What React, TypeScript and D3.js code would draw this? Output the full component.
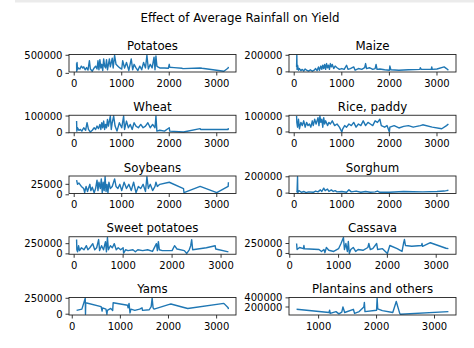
import React from 'react';
import * as d3 from 'd3';

type P = [number, number];

const potatoes: P[] = [[50,280000],[52,60000],[60,300000],[70,100000],[90,150000],[120,120000],[150,200000],[180,150000],[200,180000],[230,100000],[260,160000],[290,90000],[320,350000],[340,120000],[380,60000],[420,150000],[450,200000],[480,120000],[500,350000],[520,100000],[540,380000],[560,150000],[580,250000],[600,80000],[620,400000],[640,200000],[660,150000],[680,380000],[700,100000],[720,250000],[740,400000],[760,180000],[780,300000],[800,420000],[820,150000],[850,500000],[880,250000],[920,200000],[960,150000],[1000,120000],[1020,350000],[1060,150000],[1100,300000],[1150,80000],[1200,400000],[1230,100000],[1260,250000],[1300,150000],[1340,80000],[1380,200000],[1420,100000],[1460,300000],[1500,150000],[1530,500000],[1560,120000],[1600,250000],[1640,150000],[1680,450000],[1700,100000],[1720,480000],[1740,200000],[1760,180000],[1800,150000],[1900,150000],[1980,140000],[2000,250000],[2010,170000],[2100,160000],[2270,140000],[2290,130000],[2650,150000],[2690,140000],[3150,60000],[3240,150000],[3245,180000]];

const maize: P[] = [[50,60000],[55,200000],[60,30000],[70,80000],[90,20000],[110,40000],[140,15000],[170,30000],[200,10000],[230,35000],[260,20000],[300,10000],[340,25000],[380,8000],[420,20000],[450,40000],[480,15000],[510,60000],[530,20000],[560,70000],[580,30000],[600,80000],[620,40000],[640,90000],[660,30000],[680,100000],[700,50000],[720,80000],[740,30000],[760,100000],[780,60000],[800,90000],[830,40000],[860,70000],[900,50000],[950,30000],[1000,40000],[1050,30000],[1100,80000],[1130,30000],[1180,40000],[1250,60000],[1280,20000],[1350,40000],[1420,30000],[1480,50000],[1500,100000],[1520,40000],[1580,50000],[1650,30000],[1700,40000],[1720,90000],[1740,30000],[1800,35000],[1900,25000],[2000,20000],[2010,70000],[2030,25000],[2200,20000],[2400,25000],[2640,30000],[2650,50000],[2670,30000],[2880,30000],[2890,60000],[2900,30000],[3000,35000],[3150,60000],[3200,40000],[3240,20000]];

const wheat: P[] = [[50,70000],[55,10000],[70,30000],[100,15000],[130,20000],[160,10000],[200,30000],[240,15000],[270,60000],[300,20000],[340,5000],[380,15000],[420,30000],[450,20000],[480,40000],[510,25000],[540,50000],[560,20000],[580,60000],[600,30000],[620,70000],[640,20000],[660,50000],[680,30000],[700,80000],[720,40000],[760,100000],[780,20000],[800,60000],[830,100000],[860,40000],[900,10000],[950,60000],[1000,30000],[1040,100000],[1060,20000],[1100,70000],[1140,30000],[1180,50000],[1220,20000],[1260,60000],[1300,40000],[1350,30000],[1400,50000],[1450,30000],[1500,40000],[1550,60000],[1600,30000],[1650,50000],[1700,30000],[1720,100000],[1740,10000],[1800,15000],[1900,10000],[2000,30000],[2010,10000],[2300,5000],[2650,25000],[2660,20000],[3240,20000],[3245,28000]];

const rice: P[] = [[50,100000],[55,60000],[70,30000],[90,80000],[110,20000],[140,60000],[170,40000],[200,70000],[230,30000],[260,60000],[290,40000],[320,50000],[350,30000],[380,70000],[400,40000],[430,80000],[460,50000],[500,90000],[520,40000],[540,100000],[560,60000],[580,80000],[600,30000],[620,90000],[640,50000],[660,70000],[700,40000],[730,60000],[760,50000],[800,70000],[850,40000],[900,50000],[950,30000],[1000,0],[1020,20000],[1060,40000],[1100,30000],[1150,50000],[1200,40000],[1250,60000],[1300,30000],[1350,50000],[1400,40000],[1450,70000],[1500,40000],[1550,60000],[1600,50000],[1650,40000],[1700,70000],[1750,60000],[1800,80000],[1830,40000],[1900,30000],[1950,40000],[2000,0],[2010,30000],[2100,40000],[2200,25000],[2300,35000],[2400,40000],[2500,30000],[2650,40000],[2700,45000],[2900,30000],[3100,20000],[3200,40000],[3240,50000]];

const soybeans: P[] = [[50,35000],[70,25000],[100,28000],[150,20000],[200,15000],[220,5000],[250,20000],[280,8000],[300,15000],[330,25000],[350,10000],[380,18000],[420,5000],[450,15000],[480,35000],[500,10000],[520,30000],[550,15000],[570,38000],[590,5000],[610,30000],[630,10000],[650,43000],[670,8000],[690,25000],[710,5000],[730,30000],[760,15000],[800,20000],[850,38000],[880,20000],[920,15000],[960,25000],[1000,10000],[1050,30000],[1100,15000],[1150,25000],[1200,10000],[1250,30000],[1300,5000],[1350,20000],[1400,15000],[1450,25000],[1500,8000],[1530,43000],[1560,15000],[1600,25000],[1650,10000],[1700,20000],[1720,30000],[1750,20000],[1800,25000],[2000,30000],[2300,15000],[2310,5000],[2650,20000],[3000,5000],[3240,20000],[3245,30000]];

const sorghum: P[] = [[50,10000],[60,20000],[70,200000],[75,5000],[100,30000],[150,10000],[200,20000],[250,5000],[300,15000],[400,10000],[450,25000],[500,15000],[550,40000],[580,20000],[620,60000],[650,30000],[700,50000],[730,20000],[780,40000],[820,20000],[860,30000],[900,15000],[1000,20000],[1100,10000],[1150,40000],[1200,15000],[1300,25000],[1400,10000],[1500,20000],[1600,10000],[1700,15000],[1750,25000],[1800,10000],[2000,10000],[2300,20000],[2700,15000],[3000,20000],[3150,25000],[3200,30000],[3240,35000]];

const sweetPotatoes: P[] = [[50,350000],[55,100000],[70,50000],[90,200000],[110,80000],[150,150000],[200,100000],[250,200000],[280,100000],[320,150000],[380,250000],[420,100000],[460,150000],[500,350000],[520,80000],[560,200000],[600,100000],[640,300000],[660,50000],[680,400000],[700,100000],[740,200000],[780,150000],[820,250000],[860,100000],[900,150000],[950,100000],[1000,150000],[1010,20000],[1050,100000],[1100,80000],[1200,100000],[1250,50000],[1300,100000],[1400,80000],[1500,100000],[1600,60000],[1680,250000],[1700,80000],[1720,300000],[1740,100000],[1800,80000],[2000,80000],[2050,200000],[2100,120000],[2250,80000],[2300,10000],[2350,100000],[2380,200000],[2400,350000],[2420,100000],[2700,150000],[2880,200000],[2890,120000],[3150,50000]];

const cassava: P[] = [[140,250000],[150,100000],[200,150000],[280,120000],[290,200000],[300,120000],[600,100000],[650,50000],[700,100000],[720,20000],[750,150000],[800,80000],[900,50000],[1000,120000],[1050,250000],[1100,400000],[1120,100000],[1150,250000],[1180,50000],[1200,300000],[1220,0],[1250,100000],[1300,150000],[1350,50000],[1400,100000],[1500,80000],[1600,150000],[1620,250000],[1650,100000],[1700,120000],[1780,250000],[1800,100000],[1900,120000],[2000,0],[2050,200000],[2200,120000],[2300,50000],[2330,250000],[2350,350000],[2370,200000],[2500,180000],[2700,200000],[2710,250000],[2720,180000],[2880,270000],[3200,130000],[3250,120000]];

const yams: P[] = [[90,60000],[200,80000],[270,250000],[275,0],[280,180000],[600,120000],[620,50000],[630,100000],[700,80000],[720,0],[730,60000],[800,90000],[840,60000],[850,180000],[1150,140000],[1160,100000],[1180,170000],[1200,20000],[1220,80000],[1300,60000],[1400,80000],[1450,100000],[1460,60000],[1600,70000],[1640,120000],[1660,250000],[1680,100000],[1700,80000],[2000,150000],[2050,160000],[2300,110000],[2400,90000],[3150,170000],[3240,100000],[3245,80000]];

const plantains: P[] = [[620,150000],[1180,80000],[1190,130000],[1200,60000],[1300,100000],[1350,50000],[1400,90000],[1420,200000],[1450,80000],[1600,150000],[1620,60000],[1700,100000],[1780,200000],[1790,300000],[1800,100000],[2000,130000],[2010,390000],[2020,160000],[2100,120000],[2280,80000],[2340,320000],[2400,60000],[2410,43000],[3240,100000]];

const crops = ['Potatoes', 'Maize', 'Wheat', 'Rice, paddy', 'Soybeans', 'Sorghum', 'Sweet potatoes', 'Cassava', 'Yams', 'Plantains and others'];
const series: P[][] = [potatoes, maize, wheat, rice, soybeans, sorghum, sweetPotatoes, cassava, yams, plantains];
const yTicks: number[][] = [[0, 500000], [0, 200000], [0, 100000], [0, 100000], [0, 25000], [0, 200000], [0, 250000], [0, 250000], [0, 250000], [200000, 400000]];
const xTicks: number[][] = [[0, 1000, 2000, 3000], [0, 1000, 2000, 3000], [0, 1000, 2000, 3000], [0, 1000, 2000, 3000], [0, 1000, 2000, 3000], [0, 1000, 2000, 3000], [0, 1000, 2000, 3000], [0, 1000, 2000, 3000], [0, 1000, 2000, 3000], [1000, 2000, 3000]];
const suptitle = 'Effect of Average Rainfall on Yield';

const W = 474, H = 348;
const colLeft = [69, 289];
const boxW = 167;
const rowTop0 = 54.5, rowStep = 60.75, boxH = 17.5;
const FONT = 'DejaVu Sans, sans-serif';
const tickLen = 3.5, pad = 3;

function pad5(ext: [number, number]): [number, number] {
  const r = ext[1] - ext[0];
  return [ext[0] - r * 0.05, ext[1] + r * 0.05];
}

function Panel({ i }: { i: number }) {
  const data = series[i];
  const col = i % 2, row = Math.floor(i / 2);
  const x0 = colLeft[col], y0 = rowTop0 + row * rowStep;
  const xs = d3.scaleLinear().domain(pad5(d3.extent(data, d => d[0]) as [number, number])).range([x0, x0 + boxW]);
  const ys = d3.scaleLinear().domain(pad5(d3.extent(data, d => d[1]) as [number, number])).range([y0 + boxH, y0]);
  const line = d3.line<P>().x(d => xs(d[0])).y(d => ys(d[1]));
  return (
    <g>
      <text x={x0 + boxW / 2} y={y0 - 4.5} textAnchor="middle" fontFamily={FONT} fontSize={11.8} fill="#000">{crops[i]}</text>
      <path d={line(data) || ''} fill="none" stroke="#1f77b4" strokeWidth={1.4} strokeLinejoin="round" />
      <rect x={x0} y={y0} width={boxW} height={boxH} fill="none" stroke="#222" strokeWidth={0.9} />
      {xTicks[i].map(t => (
        <g key={'x' + t}>
          <line x1={xs(t)} x2={xs(t)} y1={y0 + boxH} y2={y0 + boxH + tickLen} stroke="#222" strokeWidth={0.9} />
          <text x={xs(t)} y={y0 + boxH + tickLen + pad + 8} textAnchor="middle" fontFamily={FONT} fontSize={10} fill="#000">{t}</text>
        </g>
      ))}
      {yTicks[i].map(t => (
        <g key={'y' + t}>
          <line x1={x0} x2={x0 - tickLen} y1={ys(t)} y2={ys(t)} stroke="#222" strokeWidth={0.9} />
          <text x={x0 - tickLen - pad} y={ys(t)} dy="0.35em" textAnchor="end" fontFamily={FONT} fontSize={10} fill="#000">{t}</text>
        </g>
      ))}
    </g>
  );
}

export default function App() {
  return (
    <svg width={W} height={H} style={{ position: 'absolute', left: 0, top: 0, background: '#fff' }}>
      <rect x={0} y={0} width={W} height={H} fill="#fff" />
      <rect x={15} y={0} width={W - 15} height={2.5} fill="#ebebeb" />
      <text x={240} y={22} textAnchor="middle" fontFamily={FONT} fontSize={11.8} fill="#000">{suptitle}</text>
      {crops.map((c, i) => <Panel key={c} i={i} />)}
    </svg>
  );
}
